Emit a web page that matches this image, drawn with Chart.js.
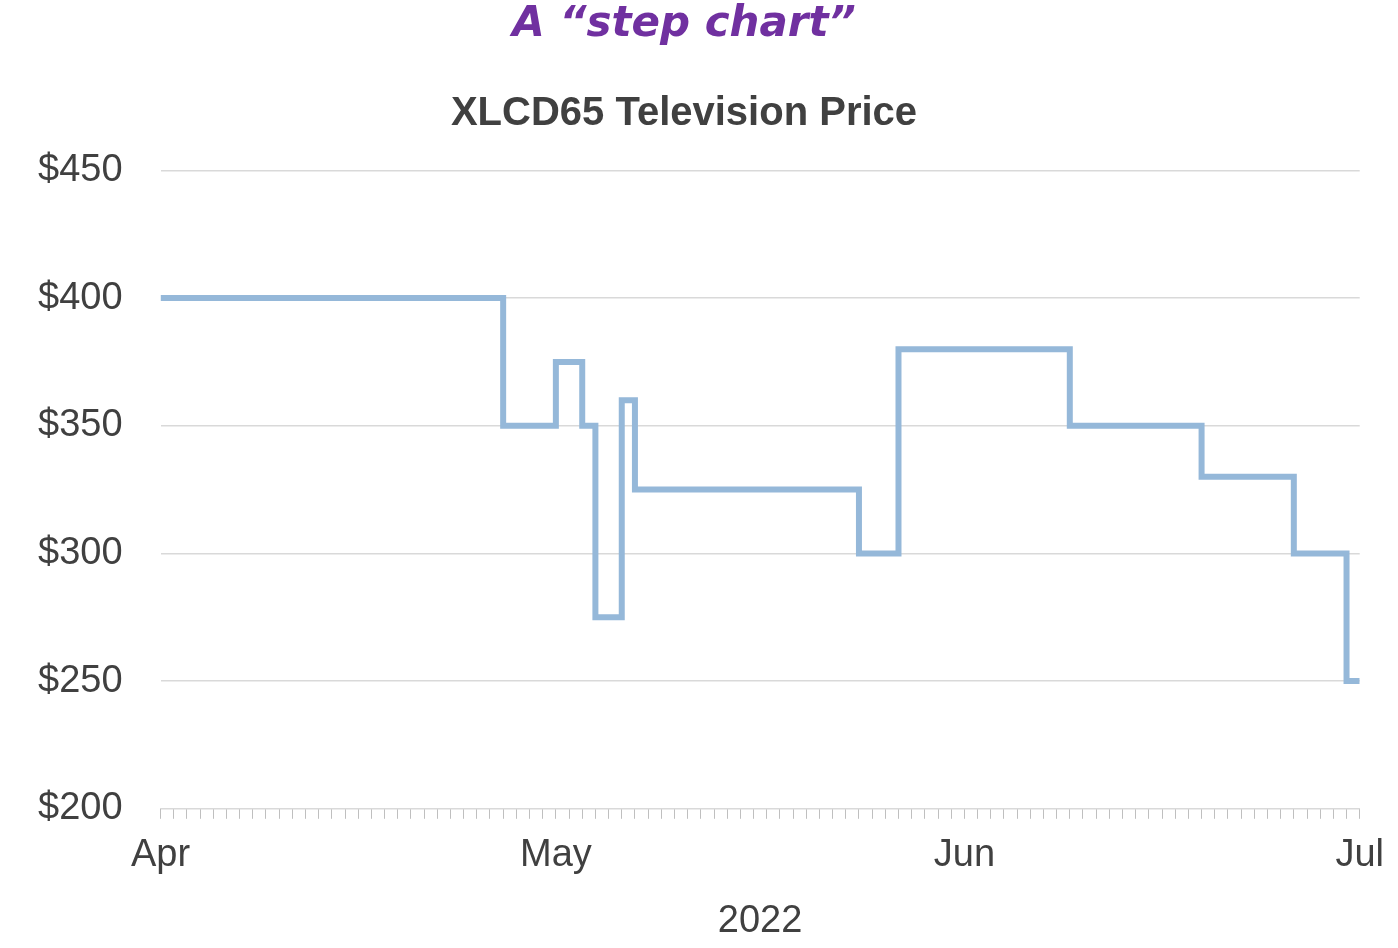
<!DOCTYPE html>
<html><head><meta charset="utf-8">
<script src="https://cdn.jsdelivr.net/npm/chart.js@4/dist/chart.umd.min.js"></script>
<style>html,body{margin:0;padding:0;background:#fff}#w{width:1398px;height:948px}</style>
</head><body><div id="w"><canvas id="c"></canvas></div>
<script>
// days since Apr 1 2022
const changeDays = [0, 26, 30, 32, 33, 35, 36, 53, 56, 69, 79, 86, 90, 91];
const prices     = [400, 350, 375, 350, 275, 360, 325, 300, 380, 350, 330, 300, 250, 250];
const monthDays  = [0, 30, 61, 91];
const monthLabels = ['Apr', 'May', 'Jun', 'Jul'];
const yearLabel = '2022';
const dash = '#404040';
new Chart(document.getElementById('c'), {
  type: 'line',
  data: { datasets: [{
    data: changeDays.map((d, i) => ({x: d, y: prices[i]})),
    stepped: 'before', borderColor: '#95b8d9', borderWidth: 6, pointRadius: 0, fill: false
  }]},
  options: {
    responsive: true, maintainAspectRatio: false, animation: false,
    layout: { padding: { left: 0, right: 30, top: 0, bottom: 0 } },
    plugins: {
      legend: { display: false }, tooltip: { enabled: false },
      title: { display: true, text: 'A “step chart”', color: '#7030a0',
        font: { family: 'DejaVu Sans', size: 42, style: 'italic' }, padding: { top: 0, bottom: 40 } },
      subtitle: { display: true, text: 'XLCD65 Television Price', color: dash,
        font: { family: 'Liberation Sans', size: 40, weight: 'bold' }, padding: { bottom: 32 } }
    },
    scales: {
      x: { type: 'linear', min: 0, max: 91,
        afterBuildTicks: s => { s.ticks = Array.from({length: 92}, (_, i) => ({value: i})); },
        ticks: { autoSkip: false, maxRotation: 0, color: dash, padding: 14, font: { family: 'Liberation Sans', size: 38 },
          callback: v => { const k = monthDays.indexOf(v); return k >= 0 ? monthLabels[k] : ''; } },
        grid: { drawOnChartArea: false, tickLength: 10, tickColor: '#bfbfbf' },
        border: { color: '#d9d9d9' },
        title: { display: true, text: yearLabel, color: dash, font: { family: 'Liberation Sans', size: 38 }, padding: { top: 6 } }
      },
      y: { min: 200, max: 450,
        ticks: { stepSize: 50, color: dash, padding: 38, font: { family: 'Liberation Sans', size: 38 }, callback: v => '$' + v },
        grid: { color: '#d9d9d9', lineWidth: 1.5, drawTicks: false },
        border: { display: false }
      }
    }
  }
});
</script></body></html>
